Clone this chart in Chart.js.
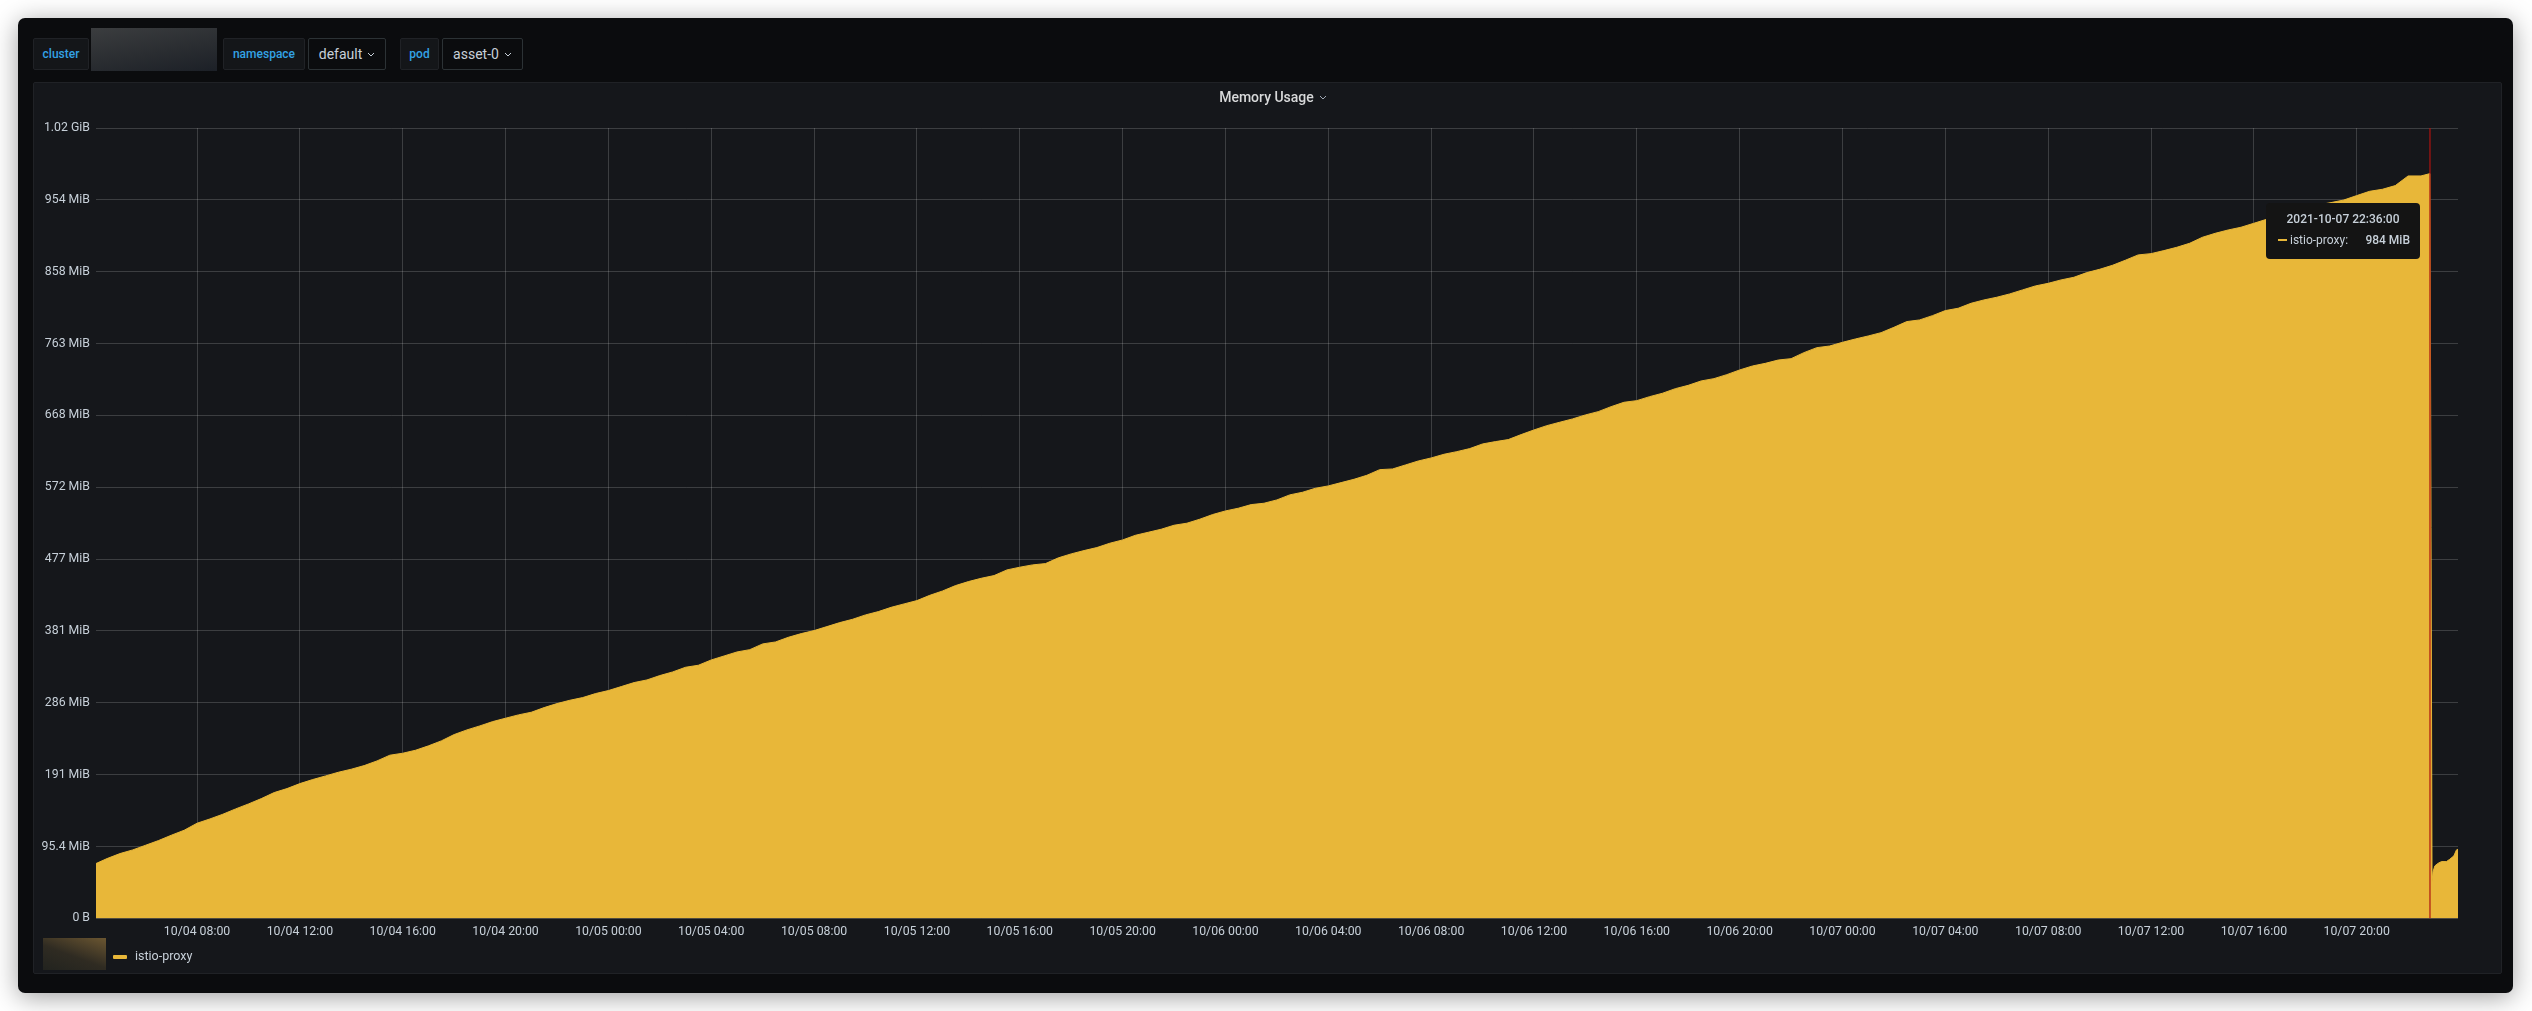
<!DOCTYPE html>
<html>
<head>
<meta charset="utf-8">
<script src="https://cdn.jsdelivr.net/npm/chart.js@4"></script>
<style>
html,body{margin:0;padding:0;background:#fff;width:2532px;height:1011px;overflow:hidden;font-family:Roboto,sans-serif}
#win{position:absolute;left:18px;top:18px;width:2495px;height:975px;background:#0b0c0e;border-radius:7px;box-shadow:0 4px 26px rgba(0,0,0,.38)}
#panel{position:absolute;left:33px;top:82px;width:2467px;height:890px;background:#15171b;border:1px solid #202226;border-radius:2px}
canvas{position:absolute;left:0;top:0}
.lab,.val{position:absolute;top:38px;height:30px;line-height:30px;text-align:center;box-sizing:content-box;border-radius:2px}
.lab{background:#141619;border:1px solid #202226;color:#33a2e5;font-weight:500;font-size:12px}
.val{background:#0b0c0e;border:1px solid #2c3235;color:#c7d0d9;font-size:14px}
.val svg,#title svg{margin-left:5px;vertical-align:2px}
.blur{position:absolute}
#title{position:absolute;left:0;width:2546px;top:88px;text-align:center;color:#d8d9da;font-size:14px;font-weight:500;line-height:18px}
#legend{position:absolute;left:135px;top:947px;color:#c7d0d9;font-size:12.5px;line-height:18px}
#swatch{position:absolute;left:113px;top:955px;width:14px;height:4px;background:#e8b739;border-radius:1px}
#tip{position:absolute;left:2266px;top:203px;width:154px;height:56px;background:#141414;border-radius:4px;color:#c7d0d9;font-size:12px}
#tip .t{position:absolute;left:0;right:0;top:7px;text-align:center;font-weight:500;line-height:18px}
#tip .s{position:absolute;left:12px;top:36px;width:9px;height:2px;background:#e8b739}
#tip .n{position:absolute;left:24px;top:28px;line-height:18px}
#tip .v{position:absolute;right:10px;top:28px;line-height:18px;font-weight:500}
</style>
</head>
<body>
<div id="win"></div>
<div id="panel"></div>
<div class="lab" style="left:33px;width:54px">cluster</div>
<div class="blur" style="left:91px;top:28px;width:126px;height:43px;background:linear-gradient(170deg,#3b3d3f 0%,#2a2d31 55%,#1c2027 100%)"></div>
<div class="lab" style="left:223px;width:80px">namespace</div>
<div class="val" style="left:308px;width:76px">default<svg width="8" height="5" viewBox="0 0 8 5"><path d="M1 1l3 3 3-3" fill="none" stroke="#c7d0d9" stroke-width="1"/></svg></div>
<div class="lab" style="left:400px;width:37px">pod</div>
<div class="val" style="left:442px;width:79px">asset-0<svg width="8" height="5" viewBox="0 0 8 5"><path d="M1 1l3 3 3-3" fill="none" stroke="#c7d0d9" stroke-width="1"/></svg></div>
<canvas id="c" width="2532" height="1011"></canvas>
<div id="title">Memory Usage<svg width="8" height="5" viewBox="0 0 8 5"><path d="M1 1l3 3 3-3" fill="none" stroke="#9fa7b3" stroke-width="1"/></svg></div>
<div class="blur" style="left:43px;top:938px;width:63px;height:32px;background:linear-gradient(20deg,#22231f 0%,#2f2b22 45%,#6b5631 100%)"></div>
<div id="swatch"></div>
<div id="legend">istio-proxy</div>
<div id="tip"><div class="t">2021-10-07 22:36:00</div><div class="s"></div><div class="n">istio-proxy:</div><div class="v">984 MiB</div></div>
<script>
// Hours are counted from 2021-10-04 00:00.
const seriesName = "istio-proxy";
const xTickHours = [8,12,16,20,24,28,32,36,40,44,48,52,56,60,64,68,72,76,80,84,88,92];
const xTickLabels = ["10/04 08:00","10/04 12:00","10/04 16:00","10/04 20:00","10/05 00:00","10/05 04:00","10/05 08:00","10/05 12:00","10/05 16:00","10/05 20:00","10/06 00:00","10/06 04:00","10/06 08:00","10/06 12:00","10/06 16:00","10/06 20:00","10/07 00:00","10/07 04:00","10/07 08:00","10/07 12:00","10/07 16:00","10/07 20:00"];
const yTickMiB = [0,95.37,190.73,286.1,381.47,476.84,572.2,667.57,762.94,858.31,953.67,1049.04];
const yTickLabels = ["0 B","95.4 MiB","191 MiB","286 MiB","381 MiB","477 MiB","572 MiB","668 MiB","763 MiB","858 MiB","954 MiB","1.02 GiB"];
const firstHour = 4.07, lastHour = 95.94;
// half-hourly readings of the climb, first one at firstHour, then 04:30, 05:00 ...
const climbMiB = [
72.8,79.4,86.0,90.9,97.1,103.3,110.4,117.0,126.3,132.0,138.2,145.3,151.9,159.0,167.0,172.3,178.9,184.3,189.1,194.0,198.0,202.8,209.0,
216.6,219.2,223.2,229.0,235.6,244.0,250.2,255.5,261.2,265.7,270.1,273.6,279.8,285.1,289.5,293.1,298.4,302.4,307.7,313.0,316.5,322.3,327.1,
333.3,336.0,343.0,348.3,353.6,356.7,364.3,366.9,373.1,378.0,382.0,387.3,392.6,397.0,402.8,407.2,412.9,417.4,421.8,428.8,434.6,441.7,447.0,
451.4,455.0,462.5,466.1,469.2,470.9,478.5,483.8,488.2,492.2,497.9,502.3,508.5,512.5,516.5,521.8,524.5,529.8,536.0,540.8,544.4,549.2,551.0,555.4,562.1,
565.6,570.9,574.0,578.4,582.8,588.1,595.6,596.5,601.8,607.1,611.1,616.0,619.5,623.5,629.7,632.8,635.5,642.1,648.3,654.0,658.5,662.9,668.2,
672.6,679.2,685.0,687.2,692.5,697.0,703.1,707.5,713.3,716.4,721.7,727.9,733.2,736.7,741.1,742.9,750.9,757.5,759.7,764.6,769.0,773.0,777.4,784.5,
792.1,794.3,800.0,806.7,809.8,816.4,820.8,824.4,828.8,834.1,839.4,842.9,847.4,850.9,857.1,861.5,866.8,873.5,880.6,882.3,886.3,890.7,896.0,
904.0,909.3,913.7,917.3,922.6,927.9,932.8,937.2,942.0,946.9,950.0,953.5,959.3,965.0,967.7,972.6,985.4,985.4];
// the restart at the right-hand end
const restartHours = [94.85,94.93,94.97,95.04,95.17,95.30,95.49,95.62,95.78,95.88,95.94];
const restartMiB = [988.5,48.9,62.1,69.7,73.2,75.4,75.4,78.5,83.0,90.9,91.8];
const markerHours = [94.85,94.85];
const markerMiB = [0,1049.04];

const climbHours = climbMiB.map((_,i)=> i===0 ? firstHour : 4+i*0.5);
const hours = climbHours.concat(restartHours);
const memory = climbMiB.concat(restartMiB);
const tickText = "#c7d0d9", gridColor = "rgba(255,255,255,0.17)";

new Chart(document.getElementById("c"),{
  type:"line",
  data:{datasets:[
    {label:"marker",data:markerHours.map((x,i)=>({x,y:markerMiB[i]})),borderColor:"#ad1410",borderWidth:1.2,pointRadius:0,fill:false,order:0},
    {label:seriesName,data:hours.map((x,i)=>({x,y:memory[i]})),borderColor:"#e8b739",backgroundColor:"#e8b739",borderWidth:1,pointRadius:0,tension:0,fill:"origin",order:1}
  ]},
  options:{
    responsive:false,animation:false,devicePixelRatio:1,
    layout:{padding:{top:128,right:74,left:0,bottom:0}},
    plugins:{legend:{display:false},tooltip:{enabled:false},title:{display:false}},
    scales:{
      x:{type:"linear",min:firstHour,max:lastHour,
        afterBuildTicks(s){s.ticks=xTickHours.map(v=>({value:v}));},
        afterFit(s){s.height=1011-918.4;},
        grid:{color:gridColor,lineWidth:1,drawTicks:false},border:{display:false},
        ticks:{autoSkip:false,maxRotation:0,padding:6,color:tickText,font:{family:"Roboto",size:12.3},
          callback(v){const i=xTickHours.indexOf(v);return i<0?"":xTickLabels[i];}}},
      y:{type:"linear",min:0,max:1049.04,
        afterBuildTicks(s){s.ticks=yTickMiB.map(v=>({value:v}));},
        afterFit(s){s.width=96;},
        grid:{color:gridColor,lineWidth:1,drawTicks:false},border:{display:false},
        ticks:{autoSkip:false,padding:6,color:tickText,font:{family:"Roboto",size:12.3},
          callback(v){const i=yTickMiB.indexOf(v);return i<0?"":yTickLabels[i];}}}
    }
  }
});
</script>
</body>
</html>
